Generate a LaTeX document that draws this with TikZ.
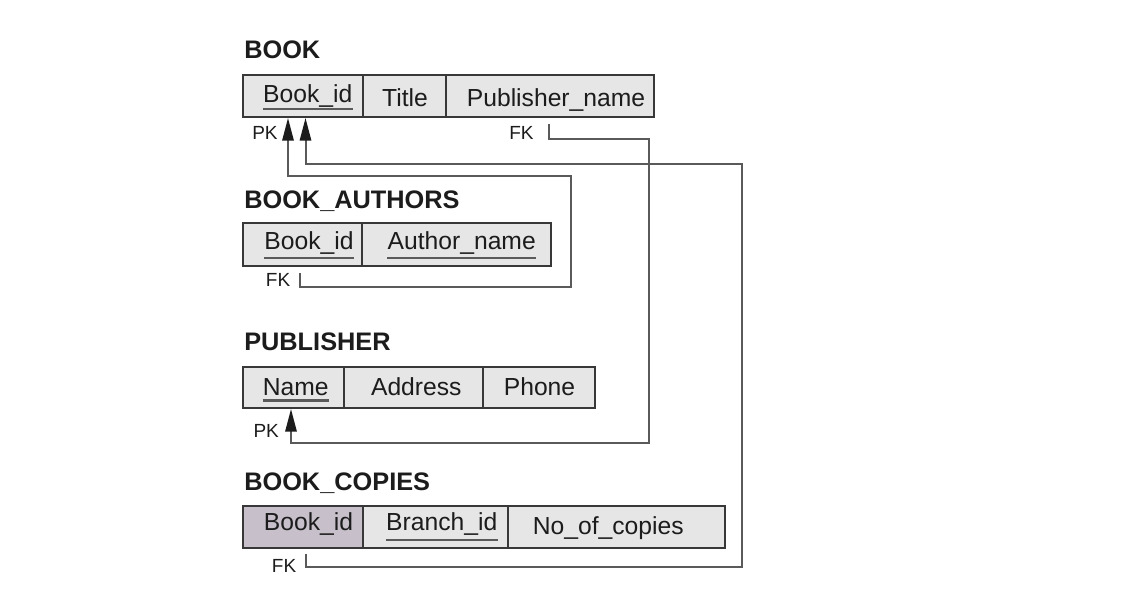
\documentclass[tikz,border=0pt]{standalone}
\usepackage{fontspec}
\setmainfont{Liberation Sans}
\usetikzlibrary{arrows.meta}
\definecolor{cellgray}{HTML}{E6E6E6}
\definecolor{keypurple}{HTML}{C7BFCA}
\definecolor{linegray}{HTML}{5A5A5A}
\definecolor{bordergray}{HTML}{383838}
\definecolor{inkc}{HTML}{1C1C1C}
\newcommand\mkcell[6][cellgray]{\node[cellbox, fill=#1, minimum width={(#4-#3)*0.75pt}, minimum height={(#6-#5)*0.75pt}] (#2) at ({(#3+#4)/2},{(#5+#6)/2}) {};}
\newcommand\mkuline[2]{\draw[ulinestyle] ([yshift={-#2*0.75pt}]#1.base west) -- ([yshift={-#2*0.75pt}]#1.base east);}
\begin{document}
\begin{tikzpicture}[x=0.75pt,y=-0.75pt,
  cellbox/.style={draw=bordergray, line width=1.5pt, inner sep=0pt},
  celltext/.style={inner sep=0pt, text=inkc, font=\fontsize{18.5}{22}\selectfont, anchor=base},
  tabtitle/.style={inner sep=0pt, text=inkc, font=\bfseries\fontsize{19}{23}\selectfont, anchor=base west},
  keylbl/.style={inner sep=0pt, text=inkc, font=\fontsize{14.25}{17}\selectfont, anchor=base west},
  ulinestyle/.style={draw=linegray, line width=1.8pt},
  conn/.style={draw=linegray, line width=1.5pt, -{Triangle[length=17pt,width=8.5pt,color=inkc]}}]
\useasboundingbox (0,0) rectangle (1141,592);

% BOOK
\node[tabtitle] (tbook) at (244,59) {BOOK};
\mkcell{b1}{243}{363}{75}{117}
\mkcell{b2}{363}{446}{75}{117}
\mkcell{b3}{446}{654}{75}{117}
\node[celltext] (bt1) at (307.8,102) {Book\_id};
\node[celltext] (bt2) at (405,106) {Title};
\node[celltext] (bt3) at (556,106) {Publisher\_name};
\mkuline{bt1}{7}
\node[keylbl] (bpk) at (252,139) {PK};
\node[keylbl] (bfk) at (509,139) {FK};

% BOOK_AUTHORS
\node[tabtitle] (tauth) at (244,208) {BOOK\_AUTHORS};
\mkcell{a1}{243}{362}{223}{266}
\mkcell{a2}{362}{551}{223}{266}
\node[celltext] (at1) at (309,249) {Book\_id};
\node[celltext] (at2) at (461.7,249) {Author\_name};
\mkuline{at1}{8.7}
\mkuline{at2}{8.7}
\node[keylbl] (afk) at (265.7,286.5) {FK};

% PUBLISHER
\node[tabtitle] (tpub) at (244,350) {PUBLISHER};
\mkcell{p1}{243}{344}{367}{408}
\mkcell{p2}{344}{483}{367}{408}
\mkcell{p3}{483}{595}{367}{408}
\node[celltext] (pt1) at (295.8,395) {Name};
\node[celltext] (pt2) at (416.3,395) {Address};
\node[celltext] (pt3) at (539.5,395) {Phone};
\mkuline{pt1}{5.5}
\node[keylbl] (ppk) at (253.3,437) {PK};

% BOOK_COPIES
\node[tabtitle] (tcop) at (244,490) {BOOK\_COPIES};
\mkcell[keypurple]{c1}{243}{363}{506}{548}
\mkcell{c2}{363}{508}{506}{548}
\mkcell{c3}{508}{725}{506}{548}
\node[celltext] (ct1) at (308.5,530) {Book\_id};
\node[celltext] (ct2) at (441.7,530) {Branch\_id};
\node[celltext] (ct3) at (608.3,534) {No\_of\_copies};
\mkuline{ct2}{10}
\node[keylbl] (cfk) at (271.7,572) {FK};

% connectors
\coordinate (xA) at (288,0);
\coordinate (xB) at (305.5,0);
\coordinate (xC) at (291,0);
\coordinate (fkA) at (300,273);
\coordinate (fkB) at (305.7,554);
\coordinate (fkC) at (549,124);
\draw[conn] (fkA) -- (300,287) -- (571,287) -- (571,176) -- (288,176) -- (xA |- b1.south);
\draw[conn] (fkB) -- (305.7,567) -- (742,567) -- (742,164) -- (305.5,164) -- (xB |- b1.south);
\draw[conn] (fkC) -- (549,138.5) -- (648.5,138.5) -- (648.5,442.5) -- (291,442.5) -- (xC |- p1.south);
\end{tikzpicture}
\end{document}
